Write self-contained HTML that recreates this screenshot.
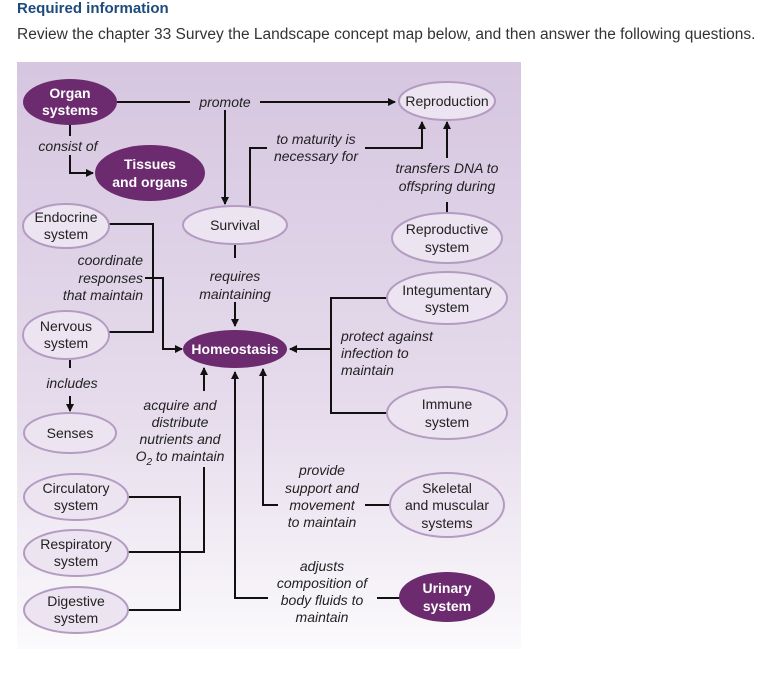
<!DOCTYPE html>
<html><head><meta charset="utf-8"><style>
body{margin:0;width:773px;height:677px;background:#fff;overflow:hidden;font-family:"Liberation Sans",sans-serif}
.h{position:absolute;left:17px;top:0px;font-weight:bold;font-size:15px;color:#1d4b7c}
.s{position:absolute;left:17px;top:26px;font-size:15.5px;color:#333}
svg{position:absolute;left:0;top:0}
</style></head><body>
<div class="h">Required information</div>
<div class="s">Review the chapter 33 Survey the Landscape concept map below, and then answer the following questions.</div>
<svg width="773" height="677" font-family="Liberation Sans, sans-serif" font-size="14">
<defs>
<linearGradient id="g" x1="0" y1="0" x2="0" y2="1"><stop offset="0" stop-color="#d6c6e0"/><stop offset="0.6" stop-color="#e6dcec"/><stop offset="1" stop-color="#fbfafc"/></linearGradient>
<marker id="a" markerWidth="8" markerHeight="8" refX="7" refY="4" orient="auto" markerUnits="userSpaceOnUse"><path d="M0,0 L8,4 L0,8z" fill="#111"/></marker>
</defs>
<rect x="17" y="62" width="504" height="587" fill="url(#g)"/>
<g stroke="#111" stroke-width="2" fill="none">
<path d="M117,102H190M260,102H395" marker-end="url(#a)"/>
<path d="M225,110V204" marker-end="url(#a)"/>
<path d="M250,207V148H267M365,148H422V122" marker-end="url(#a)"/>
<path d="M447,213V202M447,158V122" marker-end="url(#a)"/>
<path d="M70,124V136M70,155V173H93" marker-end="url(#a)"/>
<path d="M109,224H153V332H109"/>
<path d="M145,278H163V349H182" marker-end="url(#a)"/>
<path d="M235,245V258M235,302V326" marker-end="url(#a)"/>
<path d="M70,360V368M70,396V411" marker-end="url(#a)"/>
<path d="M387,298H331V413H387M331,349H290" marker-end="url(#a)"/>
<path d="M204,391V368" marker-end="url(#a)"/>
<path d="M204,467V552H128M128,497H180V610H128"/>
<path d="M268,598H235V372" marker-end="url(#a)"/>
<path d="M278,505H263V369" marker-end="url(#a)"/>
<path d="M365,505H392M377,598H400"/>
</g>
<g stroke="#b49bc2" stroke-width="2" fill="#ece4f0">
<ellipse cx="447" cy="101" rx="48" ry="19"/>
<ellipse cx="66" cy="226" rx="43" ry="22"/>
<ellipse cx="235" cy="225" rx="52" ry="19"/>
<ellipse cx="447" cy="238" rx="55" ry="25"/>
<ellipse cx="447" cy="298" rx="60" ry="26"/>
<ellipse cx="66" cy="335" rx="43" ry="24"/>
<ellipse cx="70" cy="433" rx="46" ry="20"/>
<ellipse cx="447" cy="413" rx="60" ry="26"/>
<ellipse cx="76" cy="497" rx="52" ry="23"/>
<ellipse cx="447" cy="505" rx="57" ry="32"/>
<ellipse cx="76" cy="553" rx="52" ry="23"/>
<ellipse cx="76" cy="610" rx="52" ry="23"/>
</g>
<g fill="#6b2b6e">
<ellipse cx="70" cy="102" rx="47" ry="23"/>
<ellipse cx="150" cy="173" rx="55" ry="28"/>
<ellipse cx="235" cy="349" rx="52" ry="19"/>
<ellipse cx="447" cy="597" rx="48" ry="25"/>
</g>
<g fill="#fff" font-weight="bold" text-anchor="middle">
<text x="70" y="98">Organ</text><text x="70" y="115">systems</text>
<text x="150" y="169">Tissues</text><text x="150" y="187">and organs</text>
<text x="235" y="354">Homeostasis</text>
<text x="447" y="593">Urinary</text><text x="447" y="611">system</text>
</g>
<g fill="#222" text-anchor="middle">
<text x="447" y="106">Reproduction</text>
<text x="66" y="222">Endocrine</text><text x="66" y="239">system</text>
<text x="235" y="230">Survival</text>
<text x="447" y="234">Reproductive</text><text x="447" y="252">system</text>
<text x="447" y="295">Integumentary</text><text x="447" y="312">system</text>
<text x="66" y="331">Nervous</text><text x="66" y="348">system</text>
<text x="70" y="438">Senses</text>
<text x="447" y="409">Immune</text><text x="447" y="427">system</text>
<text x="76" y="493">Circulatory</text><text x="76" y="510">system</text>
<text x="447" y="493">Skeletal</text><text x="447" y="510">and muscular</text><text x="447" y="528">systems</text>
<text x="76" y="549">Respiratory</text><text x="76" y="566">system</text>
<text x="76" y="606">Digestive</text><text x="76" y="623">system</text>
</g>
<g fill="#222" font-style="italic" text-anchor="middle">
<text x="225" y="107">promote</text>
<text x="316" y="144">to maturity is</text><text x="316" y="161">necessary for</text>
<text x="447" y="173">transfers DNA to</text><text x="447" y="191">offspring during</text>
<text x="68" y="151">consist of</text>
<text x="143" y="265" text-anchor="end">coordinate</text><text x="143" y="283" text-anchor="end">responses</text><text x="143" y="300" text-anchor="end">that maintain</text>
<text x="235" y="281">requires</text><text x="235" y="299">maintaining</text>
<text x="72" y="388">includes</text>
<text x="341" y="341" text-anchor="start">protect against</text><text x="341" y="358" text-anchor="start">infection to</text><text x="341" y="375" text-anchor="start">maintain</text>
<text x="180" y="410">acquire and</text><text x="180" y="427">distribute</text><text x="180" y="444">nutrients and</text><text x="180" y="461">O<tspan font-size="10" dy="4">2</tspan><tspan dy="-4"> to maintain</tspan></text>
<text x="322" y="475">provide</text><text x="322" y="493">support and</text><text x="322" y="510">movement</text><text x="322" y="527">to maintain</text>
<text x="322" y="571">adjusts</text><text x="322" y="588">composition of</text><text x="322" y="605">body fluids to</text><text x="322" y="622">maintain</text>
</g>
</svg>
</body></html>
